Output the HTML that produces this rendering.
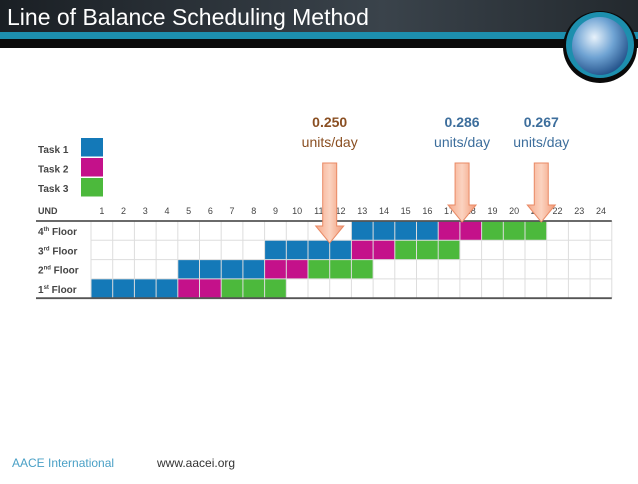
<!DOCTYPE html>
<html><head><meta charset="utf-8"><style>
body{margin:0;width:638px;height:479px;overflow:hidden;background:#fff;font-family:"Liberation Sans",sans-serif}
</style></head><body>
<svg width="638" height="479" viewBox="0 0 638 479">
<defs>
<linearGradient id="hdr" x1="0" y1="0" x2="1" y2="0"><stop offset="0" stop-color="#1a1f24"/><stop offset="0.6" stop-color="#3a434b"/><stop offset="1" stop-color="#23292e"/></linearGradient>
<radialGradient id="glb" cx="0.4" cy="0.35" r="0.7"><stop offset="0" stop-color="#e8f2fb"/><stop offset="0.5" stop-color="#6fa3d3"/><stop offset="1" stop-color="#1f4d86"/></radialGradient>
<linearGradient id="arr" x1="0" y1="0" x2="1" y2="0"><stop offset="0" stop-color="#f6a98a"/><stop offset="0.5" stop-color="#fbd3c0"/><stop offset="1" stop-color="#f29a78"/></linearGradient>
</defs>
<rect x="0" y="0" width="638" height="33" fill="url(#hdr)"/>
<rect x="0" y="32" width="638" height="7" fill="#1d8fae"/>
<rect x="0" y="39" width="638" height="9" fill="#0b0b0b"/>
<text x="7" y="25" font-size="23" fill="#fff" font-family="Liberation Sans, sans-serif">Line of Balance Scheduling Method</text>
<ellipse cx="600" cy="47" rx="37" ry="36" fill="#0a0a0a"/>
<ellipse cx="600" cy="45" rx="34" ry="33" fill="#1d8fae"/>
<ellipse cx="600" cy="46" rx="28" ry="29" fill="url(#glb)"/>
<g id="chart" font-family="Liberation Sans, sans-serif"></g>
<text x="12" y="467" font-size="12" fill="#4aa0c6">AACE International</text>
<text x="157" y="467" font-size="12" fill="#333">www.aacei.org</text>
</svg>
<script>
const days=[1,2,3,4,5,6,7,8,9,10,11,12,13,14,15,16,17,18,19,20,21,22,23,24];
const floors=["4th","3rd","2nd","1st"];
const taskNames=["Task 1","Task 2","Task 3"];
const taskColors=["#1479b8","#c4118a","#4cb93c"];
const task1Start=[1,5,9,13], task1Dur=[4,4,4,4];
const task2Start=[5,9,13,17], task2Dur=[2,2,2,2];
const task3Start=[7,11,15,19], task3Dur=[3,3,3,3];
const rates=["0.250","0.286","0.267"];
const rateDay=[12,18.1,21.75];
const rateColors=["#8a4f22","#3d6e9c","#3d6e9c"];
const NS="http://www.w3.org/2000/svg";
const g=document.getElementById('chart');
const x0=91,cw=21.7,yTop=221,rh=19.3;
const xd=d=>x0+(d-1)*cw;
const yf=i=>yTop+i*rh;
function mk(t,a){const e=document.createElementNS(NS,t);for(const k in a)e.setAttribute(k,a[k]);g.appendChild(e);return e;}
taskNames.forEach((n,i)=>{
 const t=mk('text',{x:38,y:153+i*19.5,'font-size':10,'font-weight':'bold',fill:'#444'});t.textContent=n;
 
 
 const r=mk('rect',{x:81,y:138+i*20,width:22,height:18.5,fill:taskColors[i]});
 
 
});
const u=mk('text',{x:38,y:214,'font-size':9,'font-weight':'bold',fill:'#444'});u.textContent='UND';


days.forEach(d=>{const t=mk('text',{x:xd(d)+cw/2,y:214,'font-size':9,'text-anchor':'middle',fill:'#444'});t.textContent=d;
 
 });
function bars(starts,durs,c,k){starts.forEach((s,fi)=>{const row=3-fi;for(let j=0;j<durs[fi];j++){const r=mk('rect',{x:xd(s+j),y:yf(row),width:cw,height:rh,fill:taskColors[c]});
 
 }});}
bars(task1Start,task1Dur,0,1);bars(task2Start,task2Dur,1,2);bars(task3Start,task3Dur,2,3);
for(let i=0;i<=24;i++){const l=mk('line',{x1:xd(i+1),x2:xd(i+1),y1:yTop,y2:yTop+4*rh,stroke:'#ddd','stroke-width':1});}
for(let i=1;i<4;i++){const l=mk('line',{x1:x0,x2:xd(25),y1:yf(i),y2:yf(i),stroke:'#ddd','stroke-width':1});}
[yTop,yTop+4*rh].forEach(y=>{const l=mk('line',{x1:36,x2:xd(25),y1:y,y2:y,stroke:'#555','stroke-width':1.8});});
floors.forEach((f,i)=>{const t=mk('text',{x:38,y:yf(i)+14,'font-size':10,'font-weight':'bold',fill:'#444'});
 t.innerHTML=f.slice(0,1)+'<tspan dy="-4" font-size="6">'+f.slice(1)+'</tspan><tspan dy="4"> Floor</tspan>';
 
 });
rates.forEach((r,i)=>{const cx=xd(rateDay[i]);const tip=i===0?243:222;
 const p=mk('path',{d:`M${cx-7} 163 L${cx+7} 163 L${cx+7} ${tip-17} L${cx+14} ${tip-17} L${cx} ${tip} L${cx-14} ${tip-17} L${cx-7} ${tip-17} Z`,fill:'url(#arr)',stroke:'#e98a65','stroke-width':1});
 
 
 const a=mk('text',{x:cx,y:127,'font-size':14,'font-weight':'bold','text-anchor':'middle',fill:rateColors[i]});a.textContent=r;
 
 
 const b=mk('text',{x:cx,y:147,'font-size':14,'text-anchor':'middle',fill:rateColors[i]});b.textContent='units/day';
 
 
});
</script>
</body></html>
